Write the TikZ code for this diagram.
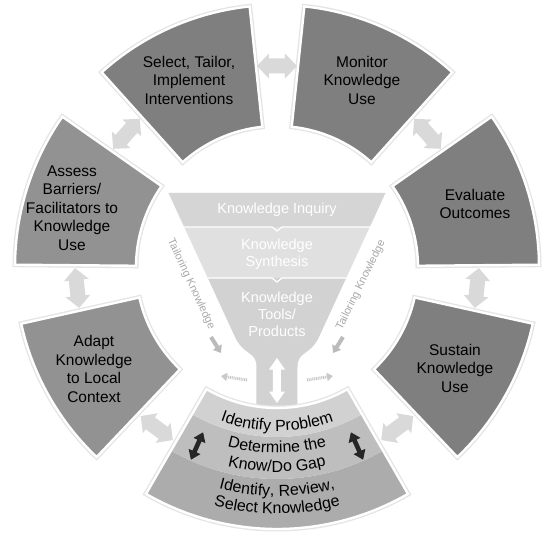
\documentclass[tikz,border=0pt]{standalone}
\usepackage{fontspec}
\setmainfont{Liberation Sans}
\usetikzlibrary{decorations.text,arrows.meta}
\definecolor{segdark}{HTML}{7F7F7F}
\definecolor{segmid}{HTML}{929292}
\definecolor{bandA}{HTML}{D1D1D1}
\definecolor{bandB}{HTML}{BEBEBE}
\definecolor{bandC}{HTML}{ACACAC}
\definecolor{funA}{HTML}{D5D5D5}
\definecolor{funB}{HTML}{E0E0E0}
\definecolor{funC}{HTML}{D2D2D2}
\definecolor{arrgray}{HTML}{D9D9D9}
\definecolor{tailgray}{HTML}{A9A9A9}
\definecolor{tailarrow}{HTML}{BBBBBB}
\definecolor{dotarrow}{HTML}{C8C8C8}
\definecolor{halo}{HTML}{E4E4E4}
\newcommand\segfont{\fontsize{15.5}{18.5}\selectfont}
\newcommand\funfont{\fontsize{14.5}{17}\selectfont}
\newcommand\btfont{\fontsize{16}{19}\selectfont}
\newcommand\ringseg[5]{%
  \draw[halostyle] (#1:#4) arc[start angle=#1,end angle=#2,radius=#4] -- (#2:#3) arc[start angle=#2,end angle=#1,radius=#3] -- cycle;
  \fill[#5, segshape] (#1:#4) arc[start angle=#1,end angle=#2,radius=#4] -- (#2:#3) arc[start angle=#2,end angle=#1,radius=#3] -- cycle;}
\tikzset{
  seglabel/.style={align=center, font=\segfont, text=black, inner sep=0pt},
  funlabel/.style={align=center, font=\funfont, text=white, inner sep=0pt},
  taillabel/.style={font=\fontsize{11}{13}\selectfont, text=tailgray, inner sep=0pt},
  segshape/.style={draw=white, line width=2.4pt},
  halostyle/.style={draw=halo, line width=5pt},
  graydbl/.pic={\fill[arrgray] (-20,0) -- (-8,12.5) -- (-8,7.5) -- (8,7.5) -- (8,12.5) -- (20,0) -- (8,-12.5) -- (8,-7.5) -- (-8,-7.5) -- (-8,-12.5) -- cycle;},
  blackdbl/.pic={\fill[black!85] (-15,0) -- (-6,6.5) -- (-6,2.3) -- (6,2.3) -- (6,6.5) -- (15,0) -- (6,-6.5) -- (6,-2.3) -- (-6,-2.3) -- (-6,-6.5) -- cycle;},
  whitedbl/.pic={\fill[white] (-22.5,0) -- (-11,8) -- (-11,4) -- (11,4) -- (11,8) -- (22.5,0) -- (11,-8) -- (11,-4) -- (-11,-4) -- (-11,-8) -- cycle;},
  bandtext/.style={decorate, decoration={text along path, text align=center, text color=black, text={|\btfont|#1}}}
}
\begin{document}
\begin{tikzpicture}[x=1pt,y=1pt]
\useasboundingbox (-277,-269) rectangle (275,267);
\fill[white] (-277,-269) rectangle (275,267);

% outer ring segments
\ringseg{96}{132}{141}{262}{segdark}
\ringseg{48}{84}{141}{262}{segdark}
\ringseg{0.5}{35}{141}{262}{segdark}
\ringseg{-46.5}{-12.5}{141}{262}{segdark}
\ringseg{145}{179.5}{141}{262}{segmid}
\ringseg{192.5}{226.5}{141}{262}{segmid}

% funnel
\fill[funC] (-69.2,-11) -- (69.2,-11) -- (42,-70) .. controls (33,-89) and (20.5,-84) .. (20.5,-100) -- (20.5,-150) -- (-20.5,-150) -- (-20.5,-100) .. controls (-20.5,-84) and (-33,-89) .. (-42,-70) -- cycle;
\fill[funB] (-92.8,40) -- (92.8,40) -- (69.2,-11) -- (-69.2,-11) -- cycle;
\fill[funA] (-108.5,74) -- (108.5,74) -- (92.8,40) -- (-92.8,40) -- cycle;
\draw[white, line width=1.2pt] (-92.8,40) -- (-5,40) -- (0,36) -- (5,40) -- (92.8,40);
\draw[white, line width=1.2pt] (-69.2,-11) -- (-5,-11) -- (0,-15) -- (5,-11) -- (69.2,-11);

% bottom segment with three bands
\draw[halostyle] (240:262) arc[start angle=240,end angle=300,radius=262] -- (300:141) arc[start angle=300,end angle=240,radius=141] -- cycle;
\fill[bandC] (240:262) arc[start angle=240,end angle=300,radius=262] -- (300:212) arc[start angle=300,end angle=240,radius=212] -- cycle;
\fill[bandB] (240:212) arc[start angle=240,end angle=300,radius=212] -- (300:170) arc[start angle=300,end angle=240,radius=170] -- cycle;
\fill[bandA] (240:170) arc[start angle=240,end angle=300,radius=170] -- (300:141) arc[start angle=300,end angle=240,radius=141] -- cycle;
\draw[white, line width=2.4pt] (240:262) arc[start angle=240,end angle=300,radius=262] -- (300:141) arc[start angle=300,end angle=240,radius=141] -- cycle;

% neck arrow
\pic[rotate=90] at (0,-113.5) {whitedbl};

% segment labels
\node[seglabel] (sel) at (-88,187) {Select, Tailor,\\Implement\\Interventions};
\node[seglabel] (mon) at (85,187) {Monitor\\Knowledge\\Use};
\node[seglabel] (eva) at (198,63) {Evaluate\\Outcomes};
\node[seglabel] (sus) at (178,-101) {Sustain\\Knowledge\\Use};
\node[seglabel] (ada) at (-183,-102) {Adapt\\Knowledge\\to Local\\Context};
\node[seglabel] (ass) at (-205,59) {Assess\\Barriers/\\Facilitators to\\Knowledge\\Use};

% funnel labels
\node[funlabel] (inq) at (0,57) {Knowledge Inquiry};
\node[funlabel] (syn) at (0,13) {Knowledge\\Synthesis};
\node[funlabel] (tool) at (0,-47) {Knowledge\\Tools/\\Products};

% tailoring
\node[taillabel, rotate=-65] (tailL) at (-86,-17) {Tailoring Knowledge};
\node[taillabel, rotate=64] (tailR) at (84,-18) {Tailoring Knowledge};
\coordinate (tlA) at (-66,-70); \coordinate (tlB) at (-56,-86);
\coordinate (trA) at (66,-70); \coordinate (trB) at (56,-86);
\draw[line width=4pt, tailarrow, -{Triangle[width=10pt,length=7pt]}] (tlA) -- (tlB);
\draw[line width=4pt, tailarrow, -{Triangle[width=10pt,length=7pt]}] (trA) -- (trB);
\coordinate (dlA) at (-30,-113); \coordinate (dlB) at (-56,-109);
\coordinate (drA) at (30,-113); \coordinate (drB) at (56,-109);
\draw[line width=3pt, dotarrow, dash pattern=on 1pt off 0.8pt, -{Triangle[width=8pt,length=6pt]}] (dlA) -- (dlB);
\draw[line width=3pt, dotarrow, dash pattern=on 1pt off 0.8pt, -{Triangle[width=8pt,length=6pt]}] (drA) -- (drB);

% bottom band texts
\path[bandtext={Identify Problem}] (-130:164) arc[start angle=-130,end angle=-50,radius=164];
\path[bandtext={Determine the}] (-130:186) arc[start angle=-130,end angle=-50,radius=186];
\path[bandtext={Know/Do Gap}] (-130:205) arc[start angle=-130,end angle=-50,radius=205];
\path[bandtext={Identify, Review,}] (-130:229) arc[start angle=-130,end angle=-50,radius=229];
\path[bandtext={Select Knowledge}] (-130:247) arc[start angle=-130,end angle=-50,radius=247];

% black arrows
\pic[rotate=66] at (-80,-179) {blackdbl};
\pic[rotate=114] at (80,-179) {blackdbl};

% gray cycle arrows
\pic[rotate=0] at (90:201) {graydbl};
\pic[rotate=131.5] at (41.5:201) {graydbl};
\pic[rotate=84] at (-6:201) {graydbl};
\pic[rotate=36.75] at (-53.25:201) {graydbl};
\pic[rotate=143.25] at (233.25:201) {graydbl};
\pic[rotate=96] at (186:201) {graydbl};
\pic[rotate=48.5] at (138.5:201) {graydbl};
\end{tikzpicture}
\end{document}
